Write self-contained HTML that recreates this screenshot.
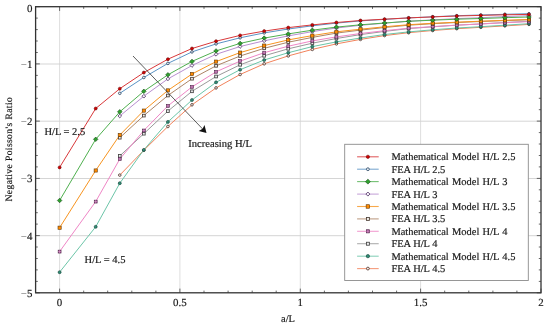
<!DOCTYPE html>
<html><head><meta charset="utf-8"><title>Negative Poisson's Ratio vs a/L</title>
<style>html,body{margin:0;padding:0;background:#fff}svg{display:block}text{text-rendering:geometricPrecision;font-family:"Liberation Serif",serif;fill:#1a1a1a;stroke:#1a1a1a;stroke-width:0.18px}</style></head><body>
<svg width="550" height="329" viewBox="0 0 550 329">
<rect width="550" height="329" fill="#fff"/>
<path d="M59.6 6.7V292.8M179.9 6.7V292.8M300.3 6.7V292.8M420.6 6.7V292.8" stroke="#dadada" stroke-width="0.9" fill="none"/>
<path d="M35.6 64.0H541.0M35.6 121.2H541.0M35.6 178.5H541.0M35.6 235.7H541.0" stroke="#d0d0d0" stroke-width="0.9" fill="none"/>
<path d="M119.8 175.1L143.8 150.3L167.9 126.5L192.0 104.8L216.1 87.9L240.1 74.5L264.2 63.8L288.3 55.9L312.3 49.4L336.4 43.9L360.5 39.4L384.5 35.6L408.6 32.7L432.7 30.5L456.8 28.7L480.8 27.3L504.9 25.9L529.0 24.4" stroke="#f2835c" stroke-width="1.0" fill="none" stroke-linejoin="round"/>
<path d="M59.6 272.2L95.7 226.8L119.8 183.2L143.8 149.9L167.9 121.9L192.0 100.0L216.1 82.3L240.1 69.7L264.2 60.0L288.3 52.7L312.3 46.6L336.4 41.9L360.5 38.0L384.5 34.5L408.6 31.9L432.7 29.8L456.8 28.0L480.8 26.7L504.9 25.2L529.0 23.7" stroke="#6cc5a8" stroke-width="1.0" fill="none" stroke-linejoin="round"/>
<path d="M119.8 155.9L143.8 133.7L167.9 111.1L192.0 91.3L216.1 76.5L240.1 64.8L264.2 55.8L288.3 48.8L312.3 43.2L336.4 38.5L360.5 34.6L384.5 31.4L408.6 28.6L432.7 26.8L456.8 25.2L480.8 23.9L504.9 22.5L529.0 21.3" stroke="#9a9a9a" stroke-width="1.0" fill="none" stroke-linejoin="round"/>
<path d="M59.6 251.6L95.7 201.6L119.8 159.0L143.8 130.5L167.9 105.9L192.0 86.9L216.1 71.8L240.1 61.1L264.2 52.7L288.3 46.2L312.3 40.9L336.4 36.9L360.5 33.5L384.5 30.7L408.6 28.2L432.7 26.6L456.8 25.1L480.8 24.0L504.9 22.7L529.0 21.6" stroke="#ef86c6" stroke-width="1.0" fill="none" stroke-linejoin="round"/>
<path d="M119.8 137.7L143.8 115.6L167.9 95.5L192.0 78.7L216.1 65.8L240.1 56.0L264.2 48.3L288.3 42.2L312.3 37.4L336.4 33.1L360.5 30.1L384.5 27.5L408.6 25.2L432.7 23.7L456.8 22.5L480.8 21.5L504.9 20.6L529.0 19.8" stroke="#ad8566" stroke-width="1.0" fill="none" stroke-linejoin="round"/>
<path d="M59.6 227.7L95.7 170.5L119.8 135.0L143.8 110.6L167.9 90.4L192.0 74.0L216.1 61.6L240.1 52.6L264.2 45.6L288.3 39.9L312.3 35.6L336.4 31.8L360.5 29.2L384.5 26.8L408.6 24.7L432.7 23.3L456.8 22.2L480.8 21.2L504.9 20.3L529.0 19.5" stroke="#f79420" stroke-width="1.0" fill="none" stroke-linejoin="round"/>
<path d="M119.8 116.0L143.8 96.2L167.9 78.9L192.0 65.5L216.1 54.3L240.1 46.5L264.2 40.8L288.3 35.9L312.3 31.6L336.4 28.0L360.5 25.3L384.5 23.2L408.6 21.2L432.7 19.9L456.8 18.6L480.8 17.7L504.9 16.6L529.0 15.7" stroke="#b98fd0" stroke-width="1.0" fill="none" stroke-linejoin="round"/>
<path d="M59.6 200.5L95.7 139.3L119.8 111.8L143.8 91.3L167.9 74.8L192.0 61.4L216.1 50.9L240.1 43.4L264.2 38.1L288.3 33.9L312.3 30.2L336.4 27.1L360.5 24.8L384.5 23.0L408.6 21.3L432.7 20.2L456.8 19.2L480.8 18.5L504.9 17.7L529.0 17.0" stroke="#4fb04f" stroke-width="1.0" fill="none" stroke-linejoin="round"/>
<path d="M119.8 93.3L143.8 77.5L167.9 63.4L192.0 51.9L216.1 43.9L240.1 37.8L264.2 32.9L288.3 29.0L312.3 25.8L336.4 23.1L360.5 20.9L384.5 19.4L408.6 17.9L432.7 16.8L456.8 15.7L480.8 15.0L504.9 14.3L529.0 13.7" stroke="#5b93c4" stroke-width="1.0" fill="none" stroke-linejoin="round"/>
<path d="M59.6 167.4L95.7 108.5L119.8 88.7L143.8 72.6L167.9 59.2L192.0 48.5L216.1 41.2L240.1 35.4L264.2 31.1L288.3 27.6L312.3 24.9L336.4 22.5L360.5 20.5L384.5 19.2L408.6 17.9L432.7 16.9L456.8 16.0L480.8 15.4L504.9 14.8L529.0 14.4" stroke="#d9383a" stroke-width="1.0" fill="none" stroke-linejoin="round"/>
<g><circle cx="119.78" cy="175.1" r="1.30" fill="#f6ebe6" stroke="#4a3028" stroke-width="0.8"/><circle cx="143.84" cy="150.3" r="1.30" fill="#f6ebe6" stroke="#4a3028" stroke-width="0.8"/><circle cx="167.91" cy="126.5" r="1.30" fill="#f6ebe6" stroke="#4a3028" stroke-width="0.8"/><circle cx="191.98" cy="104.8" r="1.30" fill="#f6ebe6" stroke="#4a3028" stroke-width="0.8"/><circle cx="216.05" cy="87.9" r="1.30" fill="#f6ebe6" stroke="#4a3028" stroke-width="0.8"/><circle cx="240.12" cy="74.5" r="1.30" fill="#f6ebe6" stroke="#4a3028" stroke-width="0.8"/><circle cx="264.19" cy="63.8" r="1.30" fill="#f6ebe6" stroke="#4a3028" stroke-width="0.8"/><circle cx="288.26" cy="55.9" r="1.30" fill="#f6ebe6" stroke="#4a3028" stroke-width="0.8"/><circle cx="312.33" cy="49.4" r="1.30" fill="#f6ebe6" stroke="#4a3028" stroke-width="0.8"/><circle cx="336.4" cy="43.88" r="1.30" fill="#f6ebe6" stroke="#4a3028" stroke-width="0.8"/><circle cx="360.48" cy="39.43" r="1.30" fill="#f6ebe6" stroke="#4a3028" stroke-width="0.8"/><circle cx="384.55" cy="35.57" r="1.30" fill="#f6ebe6" stroke="#4a3028" stroke-width="0.8"/><circle cx="408.62" cy="32.75" r="1.30" fill="#f6ebe6" stroke="#4a3028" stroke-width="0.8"/><circle cx="432.69" cy="30.52" r="1.30" fill="#f6ebe6" stroke="#4a3028" stroke-width="0.8"/><circle cx="456.75" cy="28.66" r="1.30" fill="#f6ebe6" stroke="#4a3028" stroke-width="0.8"/><circle cx="480.82" cy="27.34" r="1.30" fill="#f6ebe6" stroke="#4a3028" stroke-width="0.8"/><circle cx="504.9" cy="25.86" r="1.30" fill="#f6ebe6" stroke="#4a3028" stroke-width="0.8"/><circle cx="528.96" cy="24.41" r="1.30" fill="#f6ebe6" stroke="#4a3028" stroke-width="0.8"/></g>
<g><circle cx="59.6" cy="272.2" r="1.50" fill="#2f8f78" stroke="#173f36" stroke-width="0.6"/><circle cx="95.7" cy="226.8" r="1.50" fill="#2f8f78" stroke="#173f36" stroke-width="0.6"/><circle cx="119.78" cy="183.2" r="1.50" fill="#2f8f78" stroke="#173f36" stroke-width="0.6"/><circle cx="143.84" cy="149.9" r="1.50" fill="#2f8f78" stroke="#173f36" stroke-width="0.6"/><circle cx="167.91" cy="121.9" r="1.50" fill="#2f8f78" stroke="#173f36" stroke-width="0.6"/><circle cx="191.98" cy="100" r="1.50" fill="#2f8f78" stroke="#173f36" stroke-width="0.6"/><circle cx="216.05" cy="82.3" r="1.50" fill="#2f8f78" stroke="#173f36" stroke-width="0.6"/><circle cx="240.12" cy="69.7" r="1.50" fill="#2f8f78" stroke="#173f36" stroke-width="0.6"/><circle cx="264.19" cy="60.0" r="1.50" fill="#2f8f78" stroke="#173f36" stroke-width="0.6"/><circle cx="288.26" cy="52.7" r="1.50" fill="#2f8f78" stroke="#173f36" stroke-width="0.6"/><circle cx="312.33" cy="46.6" r="1.50" fill="#2f8f78" stroke="#173f36" stroke-width="0.6"/><circle cx="336.4" cy="41.9" r="1.50" fill="#2f8f78" stroke="#173f36" stroke-width="0.6"/><circle cx="360.48" cy="38.0" r="1.50" fill="#2f8f78" stroke="#173f36" stroke-width="0.6"/><circle cx="384.55" cy="34.5" r="1.50" fill="#2f8f78" stroke="#173f36" stroke-width="0.6"/><circle cx="408.62" cy="31.9" r="1.50" fill="#2f8f78" stroke="#173f36" stroke-width="0.6"/><circle cx="432.69" cy="29.8" r="1.50" fill="#2f8f78" stroke="#173f36" stroke-width="0.6"/><circle cx="456.75" cy="28.0" r="1.50" fill="#2f8f78" stroke="#173f36" stroke-width="0.6"/><circle cx="480.82" cy="26.7" r="1.50" fill="#2f8f78" stroke="#173f36" stroke-width="0.6"/><circle cx="504.9" cy="25.2" r="1.50" fill="#2f8f78" stroke="#173f36" stroke-width="0.6"/><circle cx="528.96" cy="23.7" r="1.50" fill="#2f8f78" stroke="#173f36" stroke-width="0.6"/></g>
<g><rect x="118.43" y="154.55" width="2.7" height="2.7" fill="#eeeeee" stroke="#444" stroke-width="0.85"/><rect x="142.49" y="132.35" width="2.7" height="2.7" fill="#eeeeee" stroke="#444" stroke-width="0.85"/><rect x="166.56" y="109.75" width="2.7" height="2.7" fill="#eeeeee" stroke="#444" stroke-width="0.85"/><rect x="190.63" y="89.95" width="2.7" height="2.7" fill="#eeeeee" stroke="#444" stroke-width="0.85"/><rect x="214.70" y="75.15" width="2.7" height="2.7" fill="#eeeeee" stroke="#444" stroke-width="0.85"/><rect x="238.77" y="63.45" width="2.7" height="2.7" fill="#eeeeee" stroke="#444" stroke-width="0.85"/><rect x="262.84" y="54.45" width="2.7" height="2.7" fill="#eeeeee" stroke="#444" stroke-width="0.85"/><rect x="286.91" y="47.45" width="2.7" height="2.7" fill="#eeeeee" stroke="#444" stroke-width="0.85"/><rect x="310.98" y="41.85" width="2.7" height="2.7" fill="#eeeeee" stroke="#444" stroke-width="0.85"/><rect x="335.05" y="37.14" width="2.7" height="2.7" fill="#eeeeee" stroke="#444" stroke-width="0.85"/><rect x="359.13" y="33.23" width="2.7" height="2.7" fill="#eeeeee" stroke="#444" stroke-width="0.85"/><rect x="383.20" y="30.06" width="2.7" height="2.7" fill="#eeeeee" stroke="#444" stroke-width="0.85"/><rect x="407.27" y="27.28" width="2.7" height="2.7" fill="#eeeeee" stroke="#444" stroke-width="0.85"/><rect x="431.34" y="25.47" width="2.7" height="2.7" fill="#eeeeee" stroke="#444" stroke-width="0.85"/><rect x="455.40" y="23.80" width="2.7" height="2.7" fill="#eeeeee" stroke="#444" stroke-width="0.85"/><rect x="479.47" y="22.56" width="2.7" height="2.7" fill="#eeeeee" stroke="#444" stroke-width="0.85"/><rect x="503.55" y="21.15" width="2.7" height="2.7" fill="#eeeeee" stroke="#444" stroke-width="0.85"/><rect x="527.61" y="19.94" width="2.7" height="2.7" fill="#eeeeee" stroke="#444" stroke-width="0.85"/></g>
<g><rect x="58.15" y="250.15" width="2.9" height="2.9" fill="#9a4a8c" stroke="#4a2545" stroke-width="0.6"/><path d="M58.15 251.6H61.05M59.6 250.15V253.05" stroke="#e9a6d8" stroke-width="0.5"/><rect x="94.25" y="200.15" width="2.9" height="2.9" fill="#9a4a8c" stroke="#4a2545" stroke-width="0.6"/><path d="M94.25 201.6H97.15M95.7 200.15V203.05" stroke="#e9a6d8" stroke-width="0.5"/><rect x="118.33" y="157.55" width="2.9" height="2.9" fill="#9a4a8c" stroke="#4a2545" stroke-width="0.6"/><path d="M118.33 159.0H121.23M119.78 157.55V160.45" stroke="#e9a6d8" stroke-width="0.5"/><rect x="142.39" y="129.05" width="2.9" height="2.9" fill="#9a4a8c" stroke="#4a2545" stroke-width="0.6"/><path d="M142.39 130.5H145.29M143.84 129.05V131.95" stroke="#e9a6d8" stroke-width="0.5"/><rect x="166.46" y="104.45" width="2.9" height="2.9" fill="#9a4a8c" stroke="#4a2545" stroke-width="0.6"/><path d="M166.46 105.9H169.36M167.91 104.45V107.35" stroke="#e9a6d8" stroke-width="0.5"/><rect x="190.53" y="85.45" width="2.9" height="2.9" fill="#9a4a8c" stroke="#4a2545" stroke-width="0.6"/><path d="M190.53 86.9H193.43M191.98 85.45V88.35" stroke="#e9a6d8" stroke-width="0.5"/><rect x="214.60" y="70.35" width="2.9" height="2.9" fill="#9a4a8c" stroke="#4a2545" stroke-width="0.6"/><path d="M214.60 71.8H217.50M216.05 70.35V73.25" stroke="#e9a6d8" stroke-width="0.5"/><rect x="238.67" y="59.65" width="2.9" height="2.9" fill="#9a4a8c" stroke="#4a2545" stroke-width="0.6"/><path d="M238.67 61.1H241.57M240.12 59.65V62.55" stroke="#e9a6d8" stroke-width="0.5"/><rect x="262.74" y="51.25" width="2.9" height="2.9" fill="#9a4a8c" stroke="#4a2545" stroke-width="0.6"/><path d="M262.74 52.7H265.64M264.19 51.25V54.15" stroke="#e9a6d8" stroke-width="0.5"/><rect x="286.81" y="44.75" width="2.9" height="2.9" fill="#9a4a8c" stroke="#4a2545" stroke-width="0.6"/><path d="M286.81 46.2H289.71M288.26 44.75V47.65" stroke="#e9a6d8" stroke-width="0.5"/><rect x="310.88" y="39.45" width="2.9" height="2.9" fill="#9a4a8c" stroke="#4a2545" stroke-width="0.6"/><path d="M310.88 40.9H313.78M312.33 39.45V42.35" stroke="#e9a6d8" stroke-width="0.5"/><rect x="334.95" y="35.45" width="2.9" height="2.9" fill="#9a4a8c" stroke="#4a2545" stroke-width="0.6"/><path d="M334.95 36.9H337.85M336.4 35.45V38.35" stroke="#e9a6d8" stroke-width="0.5"/><rect x="359.03" y="32.05" width="2.9" height="2.9" fill="#9a4a8c" stroke="#4a2545" stroke-width="0.6"/><path d="M359.03 33.5H361.93M360.48 32.05V34.95" stroke="#e9a6d8" stroke-width="0.5"/><rect x="383.10" y="29.25" width="2.9" height="2.9" fill="#9a4a8c" stroke="#4a2545" stroke-width="0.6"/><path d="M383.10 30.7H386.00M384.55 29.25V32.15" stroke="#e9a6d8" stroke-width="0.5"/><rect x="407.17" y="26.75" width="2.9" height="2.9" fill="#9a4a8c" stroke="#4a2545" stroke-width="0.6"/><path d="M407.17 28.2H410.07M408.62 26.75V29.65" stroke="#e9a6d8" stroke-width="0.5"/><rect x="431.24" y="25.15" width="2.9" height="2.9" fill="#9a4a8c" stroke="#4a2545" stroke-width="0.6"/><path d="M431.24 26.6H434.14M432.69 25.15V28.05" stroke="#e9a6d8" stroke-width="0.5"/><rect x="455.30" y="23.65" width="2.9" height="2.9" fill="#9a4a8c" stroke="#4a2545" stroke-width="0.6"/><path d="M455.30 25.1H458.20M456.75 23.65V26.55" stroke="#e9a6d8" stroke-width="0.5"/><rect x="479.37" y="22.55" width="2.9" height="2.9" fill="#9a4a8c" stroke="#4a2545" stroke-width="0.6"/><path d="M479.37 24.0H482.27M480.82 22.55V25.45" stroke="#e9a6d8" stroke-width="0.5"/><rect x="503.45" y="21.25" width="2.9" height="2.9" fill="#9a4a8c" stroke="#4a2545" stroke-width="0.6"/><path d="M503.45 22.7H506.35M504.9 21.25V24.15" stroke="#e9a6d8" stroke-width="0.5"/><rect x="527.51" y="20.15" width="2.9" height="2.9" fill="#9a4a8c" stroke="#4a2545" stroke-width="0.6"/><path d="M527.51 21.6H530.41M528.96 20.15V23.05" stroke="#e9a6d8" stroke-width="0.5"/></g>
<g><rect x="118.43" y="136.35" width="2.7" height="2.7" fill="#f3efe9" stroke="#4a3d35" stroke-width="0.85"/><rect x="142.49" y="114.25" width="2.7" height="2.7" fill="#f3efe9" stroke="#4a3d35" stroke-width="0.85"/><rect x="166.56" y="94.15" width="2.7" height="2.7" fill="#f3efe9" stroke="#4a3d35" stroke-width="0.85"/><rect x="190.63" y="77.35" width="2.7" height="2.7" fill="#f3efe9" stroke="#4a3d35" stroke-width="0.85"/><rect x="214.70" y="64.45" width="2.7" height="2.7" fill="#f3efe9" stroke="#4a3d35" stroke-width="0.85"/><rect x="238.77" y="54.65" width="2.7" height="2.7" fill="#f3efe9" stroke="#4a3d35" stroke-width="0.85"/><rect x="262.84" y="46.95" width="2.7" height="2.7" fill="#f3efe9" stroke="#4a3d35" stroke-width="0.85"/><rect x="286.91" y="40.85" width="2.7" height="2.7" fill="#f3efe9" stroke="#4a3d35" stroke-width="0.85"/><rect x="310.98" y="36.05" width="2.7" height="2.7" fill="#f3efe9" stroke="#4a3d35" stroke-width="0.85"/><rect x="335.05" y="31.72" width="2.7" height="2.7" fill="#f3efe9" stroke="#4a3d35" stroke-width="0.85"/><rect x="359.13" y="28.75" width="2.7" height="2.7" fill="#f3efe9" stroke="#4a3d35" stroke-width="0.85"/><rect x="383.20" y="26.11" width="2.7" height="2.7" fill="#f3efe9" stroke="#4a3d35" stroke-width="0.85"/><rect x="407.27" y="23.84" width="2.7" height="2.7" fill="#f3efe9" stroke="#4a3d35" stroke-width="0.85"/><rect x="431.34" y="22.33" width="2.7" height="2.7" fill="#f3efe9" stroke="#4a3d35" stroke-width="0.85"/><rect x="455.40" y="21.17" width="2.7" height="2.7" fill="#f3efe9" stroke="#4a3d35" stroke-width="0.85"/><rect x="479.47" y="20.13" width="2.7" height="2.7" fill="#f3efe9" stroke="#4a3d35" stroke-width="0.85"/><rect x="503.55" y="19.22" width="2.7" height="2.7" fill="#f3efe9" stroke="#4a3d35" stroke-width="0.85"/><rect x="527.61" y="18.42" width="2.7" height="2.7" fill="#f3efe9" stroke="#4a3d35" stroke-width="0.85"/></g>
<g><rect x="58.00" y="226.10" width="3.2" height="3.2" fill="#ff8a00" stroke="#5e380a" stroke-width="0.6"/><rect x="94.10" y="168.90" width="3.2" height="3.2" fill="#ff8a00" stroke="#5e380a" stroke-width="0.6"/><rect x="118.18" y="133.40" width="3.2" height="3.2" fill="#ff8a00" stroke="#5e380a" stroke-width="0.6"/><rect x="142.24" y="109.00" width="3.2" height="3.2" fill="#ff8a00" stroke="#5e380a" stroke-width="0.6"/><rect x="166.31" y="88.80" width="3.2" height="3.2" fill="#ff8a00" stroke="#5e380a" stroke-width="0.6"/><rect x="190.38" y="72.40" width="3.2" height="3.2" fill="#ff8a00" stroke="#5e380a" stroke-width="0.6"/><rect x="214.45" y="60.00" width="3.2" height="3.2" fill="#ff8a00" stroke="#5e380a" stroke-width="0.6"/><rect x="238.52" y="51.00" width="3.2" height="3.2" fill="#ff8a00" stroke="#5e380a" stroke-width="0.6"/><rect x="262.59" y="44.00" width="3.2" height="3.2" fill="#ff8a00" stroke="#5e380a" stroke-width="0.6"/><rect x="286.66" y="38.30" width="3.2" height="3.2" fill="#ff8a00" stroke="#5e380a" stroke-width="0.6"/><rect x="310.73" y="34.00" width="3.2" height="3.2" fill="#ff8a00" stroke="#5e380a" stroke-width="0.6"/><rect x="334.80" y="30.20" width="3.2" height="3.2" fill="#ff8a00" stroke="#5e380a" stroke-width="0.6"/><rect x="358.88" y="27.60" width="3.2" height="3.2" fill="#ff8a00" stroke="#5e380a" stroke-width="0.6"/><rect x="382.95" y="25.20" width="3.2" height="3.2" fill="#ff8a00" stroke="#5e380a" stroke-width="0.6"/><rect x="407.02" y="23.10" width="3.2" height="3.2" fill="#ff8a00" stroke="#5e380a" stroke-width="0.6"/><rect x="431.09" y="21.70" width="3.2" height="3.2" fill="#ff8a00" stroke="#5e380a" stroke-width="0.6"/><rect x="455.15" y="20.60" width="3.2" height="3.2" fill="#ff8a00" stroke="#5e380a" stroke-width="0.6"/><rect x="479.22" y="19.60" width="3.2" height="3.2" fill="#ff8a00" stroke="#5e380a" stroke-width="0.6"/><rect x="503.30" y="18.70" width="3.2" height="3.2" fill="#ff8a00" stroke="#5e380a" stroke-width="0.6"/><rect x="527.36" y="17.90" width="3.2" height="3.2" fill="#ff8a00" stroke="#5e380a" stroke-width="0.6"/></g>
<g><path d="M117.93 116.0L119.78 114.15L121.63 116.0L119.78 117.85Z" fill="#f6effa" stroke="#4a2f5e" stroke-width="0.8"/><path d="M141.99 96.2L143.84 94.35000000000001L145.69 96.2L143.84 98.05Z" fill="#f6effa" stroke="#4a2f5e" stroke-width="0.8"/><path d="M166.06 78.9L167.91 77.05000000000001L169.76 78.9L167.91 80.75Z" fill="#f6effa" stroke="#4a2f5e" stroke-width="0.8"/><path d="M190.13 65.5L191.98 63.65L193.82999999999998 65.5L191.98 67.35Z" fill="#f6effa" stroke="#4a2f5e" stroke-width="0.8"/><path d="M214.20000000000002 54.3L216.05 52.449999999999996L217.9 54.3L216.05 56.15Z" fill="#f6effa" stroke="#4a2f5e" stroke-width="0.8"/><path d="M238.27 46.5L240.12 44.65L241.97 46.5L240.12 48.35Z" fill="#f6effa" stroke="#4a2f5e" stroke-width="0.8"/><path d="M262.34 40.8L264.19 38.949999999999996L266.04 40.8L264.19 42.65Z" fill="#f6effa" stroke="#4a2f5e" stroke-width="0.8"/><path d="M286.40999999999997 35.9L288.26 34.05L290.11 35.9L288.26 37.75Z" fill="#f6effa" stroke="#4a2f5e" stroke-width="0.8"/><path d="M310.47999999999996 31.6L312.33 29.75L314.18 31.6L312.33 33.45Z" fill="#f6effa" stroke="#4a2f5e" stroke-width="0.8"/><path d="M334.54999999999995 28.03L336.4 26.18L338.25 28.03L336.4 29.880000000000003Z" fill="#f6effa" stroke="#4a2f5e" stroke-width="0.8"/><path d="M358.63 25.34L360.48 23.49L362.33000000000004 25.34L360.48 27.19Z" fill="#f6effa" stroke="#4a2f5e" stroke-width="0.8"/><path d="M382.7 23.21L384.55 21.36L386.40000000000003 23.21L384.55 25.060000000000002Z" fill="#f6effa" stroke="#4a2f5e" stroke-width="0.8"/><path d="M406.77 21.22L408.62 19.369999999999997L410.47 21.22L408.62 23.07Z" fill="#f6effa" stroke="#4a2f5e" stroke-width="0.8"/><path d="M430.84 19.86L432.69 18.009999999999998L434.54 19.86L432.69 21.71Z" fill="#f6effa" stroke="#4a2f5e" stroke-width="0.8"/><path d="M454.9 18.6L456.75 16.75L458.6 18.6L456.75 20.450000000000003Z" fill="#f6effa" stroke="#4a2f5e" stroke-width="0.8"/><path d="M478.96999999999997 17.65L480.82 15.799999999999999L482.67 17.65L480.82 19.5Z" fill="#f6effa" stroke="#4a2f5e" stroke-width="0.8"/><path d="M503.04999999999995 16.61L504.9 14.76L506.75 16.61L504.9 18.46Z" fill="#f6effa" stroke="#4a2f5e" stroke-width="0.8"/><path d="M527.11 15.66L528.96 13.81L530.8100000000001 15.66L528.96 17.51Z" fill="#f6effa" stroke="#4a2f5e" stroke-width="0.8"/></g>
<g><path d="M57.35 200.5L59.6 198.25L61.85 200.5L59.6 202.75Z" fill="#2fa12f" stroke="#174817" stroke-width="0.6"/><path d="M93.45 139.3L95.7 137.05L97.95 139.3L95.7 141.55Z" fill="#2fa12f" stroke="#174817" stroke-width="0.6"/><path d="M117.53 111.8L119.78 109.55L122.03 111.8L119.78 114.05Z" fill="#2fa12f" stroke="#174817" stroke-width="0.6"/><path d="M141.59 91.3L143.84 89.05L146.09 91.3L143.84 93.55Z" fill="#2fa12f" stroke="#174817" stroke-width="0.6"/><path d="M165.66 74.8L167.91 72.55L170.16 74.8L167.91 77.05Z" fill="#2fa12f" stroke="#174817" stroke-width="0.6"/><path d="M189.73 61.4L191.98 59.15L194.23 61.4L191.98 63.65Z" fill="#2fa12f" stroke="#174817" stroke-width="0.6"/><path d="M213.8 50.9L216.05 48.65L218.3 50.9L216.05 53.15Z" fill="#2fa12f" stroke="#174817" stroke-width="0.6"/><path d="M237.87 43.4L240.12 41.15L242.37 43.4L240.12 45.65Z" fill="#2fa12f" stroke="#174817" stroke-width="0.6"/><path d="M261.94 38.1L264.19 35.85L266.44 38.1L264.19 40.35Z" fill="#2fa12f" stroke="#174817" stroke-width="0.6"/><path d="M286.01 33.9L288.26 31.65L290.51 33.9L288.26 36.15Z" fill="#2fa12f" stroke="#174817" stroke-width="0.6"/><path d="M310.08 30.2L312.33 27.95L314.58 30.2L312.33 32.45Z" fill="#2fa12f" stroke="#174817" stroke-width="0.6"/><path d="M334.15 27.1L336.4 24.85L338.65 27.1L336.4 29.35Z" fill="#2fa12f" stroke="#174817" stroke-width="0.6"/><path d="M358.23 24.8L360.48 22.55L362.73 24.8L360.48 27.05Z" fill="#2fa12f" stroke="#174817" stroke-width="0.6"/><path d="M382.3 23.0L384.55 20.75L386.8 23.0L384.55 25.25Z" fill="#2fa12f" stroke="#174817" stroke-width="0.6"/><path d="M406.37 21.3L408.62 19.05L410.87 21.3L408.62 23.55Z" fill="#2fa12f" stroke="#174817" stroke-width="0.6"/><path d="M430.44 20.2L432.69 17.95L434.94 20.2L432.69 22.45Z" fill="#2fa12f" stroke="#174817" stroke-width="0.6"/><path d="M454.5 19.2L456.75 16.95L459.0 19.2L456.75 21.45Z" fill="#2fa12f" stroke="#174817" stroke-width="0.6"/><path d="M478.57 18.5L480.82 16.25L483.07 18.5L480.82 20.75Z" fill="#2fa12f" stroke="#174817" stroke-width="0.6"/><path d="M502.65 17.7L504.9 15.45L507.15 17.7L504.9 19.95Z" fill="#2fa12f" stroke="#174817" stroke-width="0.6"/><path d="M526.71 17.0L528.96 14.75L531.21 17.0L528.96 19.25Z" fill="#2fa12f" stroke="#174817" stroke-width="0.6"/></g>
<g><circle cx="119.78" cy="93.3" r="1.30" fill="#eef3f8" stroke="#27425f" stroke-width="0.8"/><circle cx="143.84" cy="77.5" r="1.30" fill="#eef3f8" stroke="#27425f" stroke-width="0.8"/><circle cx="167.91" cy="63.4" r="1.30" fill="#eef3f8" stroke="#27425f" stroke-width="0.8"/><circle cx="191.98" cy="51.9" r="1.30" fill="#eef3f8" stroke="#27425f" stroke-width="0.8"/><circle cx="216.05" cy="43.9" r="1.30" fill="#eef3f8" stroke="#27425f" stroke-width="0.8"/><circle cx="240.12" cy="37.8" r="1.30" fill="#eef3f8" stroke="#27425f" stroke-width="0.8"/><circle cx="264.19" cy="32.9" r="1.30" fill="#eef3f8" stroke="#27425f" stroke-width="0.8"/><circle cx="288.26" cy="29.0" r="1.30" fill="#eef3f8" stroke="#27425f" stroke-width="0.8"/><circle cx="312.33" cy="25.8" r="1.30" fill="#eef3f8" stroke="#27425f" stroke-width="0.8"/><circle cx="336.4" cy="23.1" r="1.30" fill="#eef3f8" stroke="#27425f" stroke-width="0.8"/><circle cx="360.48" cy="20.87" r="1.30" fill="#eef3f8" stroke="#27425f" stroke-width="0.8"/><circle cx="384.55" cy="19.37" r="1.30" fill="#eef3f8" stroke="#27425f" stroke-width="0.8"/><circle cx="408.62" cy="17.91" r="1.30" fill="#eef3f8" stroke="#27425f" stroke-width="0.8"/><circle cx="432.69" cy="16.76" r="1.30" fill="#eef3f8" stroke="#27425f" stroke-width="0.8"/><circle cx="456.75" cy="15.72" r="1.30" fill="#eef3f8" stroke="#27425f" stroke-width="0.8"/><circle cx="480.82" cy="14.99" r="1.30" fill="#eef3f8" stroke="#27425f" stroke-width="0.8"/><circle cx="504.9" cy="14.27" r="1.30" fill="#eef3f8" stroke="#27425f" stroke-width="0.8"/><circle cx="528.96" cy="13.74" r="1.30" fill="#eef3f8" stroke="#27425f" stroke-width="0.8"/></g>
<g><circle cx="59.6" cy="167.4" r="1.50" fill="#d40000" stroke="#6a0c0c" stroke-width="0.6"/><circle cx="95.7" cy="108.5" r="1.50" fill="#d40000" stroke="#6a0c0c" stroke-width="0.6"/><circle cx="119.78" cy="88.7" r="1.50" fill="#d40000" stroke="#6a0c0c" stroke-width="0.6"/><circle cx="143.84" cy="72.6" r="1.50" fill="#d40000" stroke="#6a0c0c" stroke-width="0.6"/><circle cx="167.91" cy="59.2" r="1.50" fill="#d40000" stroke="#6a0c0c" stroke-width="0.6"/><circle cx="191.98" cy="48.5" r="1.50" fill="#d40000" stroke="#6a0c0c" stroke-width="0.6"/><circle cx="216.05" cy="41.2" r="1.50" fill="#d40000" stroke="#6a0c0c" stroke-width="0.6"/><circle cx="240.12" cy="35.4" r="1.50" fill="#d40000" stroke="#6a0c0c" stroke-width="0.6"/><circle cx="264.19" cy="31.1" r="1.50" fill="#d40000" stroke="#6a0c0c" stroke-width="0.6"/><circle cx="288.26" cy="27.6" r="1.50" fill="#d40000" stroke="#6a0c0c" stroke-width="0.6"/><circle cx="312.33" cy="24.9" r="1.50" fill="#d40000" stroke="#6a0c0c" stroke-width="0.6"/><circle cx="336.4" cy="22.5" r="1.50" fill="#d40000" stroke="#6a0c0c" stroke-width="0.6"/><circle cx="360.48" cy="20.5" r="1.50" fill="#d40000" stroke="#6a0c0c" stroke-width="0.6"/><circle cx="384.55" cy="19.2" r="1.50" fill="#d40000" stroke="#6a0c0c" stroke-width="0.6"/><circle cx="408.62" cy="17.9" r="1.50" fill="#d40000" stroke="#6a0c0c" stroke-width="0.6"/><circle cx="432.69" cy="16.9" r="1.50" fill="#d40000" stroke="#6a0c0c" stroke-width="0.6"/><circle cx="456.75" cy="16.0" r="1.50" fill="#d40000" stroke="#6a0c0c" stroke-width="0.6"/><circle cx="480.82" cy="15.4" r="1.50" fill="#d40000" stroke="#6a0c0c" stroke-width="0.6"/><circle cx="504.9" cy="14.8" r="1.50" fill="#d40000" stroke="#6a0c0c" stroke-width="0.6"/><circle cx="528.96" cy="14.4" r="1.50" fill="#d40000" stroke="#6a0c0c" stroke-width="0.6"/></g>
<path d="M133.0 56.0L203.6 130.0" stroke="#333" stroke-width="0.8" fill="none"/>
<path d="M206.5 132.9L198.7 130.9L202.6 128.7L204.5 125.0Z" fill="#111"/>
<path d="M35.5 292.8v-2.2M35.5 6.7v2.2M59.6 292.8v-4.2M59.6 6.7v4.2M83.7 292.8v-2.2M83.7 6.7v2.2M107.7 292.8v-2.2M107.7 6.7v2.2M131.8 292.8v-2.2M131.8 6.7v2.2M155.9 292.8v-2.2M155.9 6.7v2.2M179.9 292.8v-4.2M179.9 6.7v4.2M204.0 292.8v-2.2M204.0 6.7v2.2M228.1 292.8v-2.2M228.1 6.7v2.2M252.2 292.8v-2.2M252.2 6.7v2.2M276.2 292.8v-2.2M276.2 6.7v2.2M300.3 292.8v-4.2M300.3 6.7v4.2M324.4 292.8v-2.2M324.4 6.7v2.2M348.4 292.8v-2.2M348.4 6.7v2.2M372.5 292.8v-2.2M372.5 6.7v2.2M396.6 292.8v-2.2M396.6 6.7v2.2M420.6 292.8v-4.2M420.6 6.7v4.2M444.7 292.8v-2.2M444.7 6.7v2.2M468.8 292.8v-2.2M468.8 6.7v2.2M492.9 292.8v-2.2M492.9 6.7v2.2M516.9 292.8v-2.2M516.9 6.7v2.2M541.0 292.8v-4.2M541.0 6.7v4.2M35.6 6.7h4.2M541.0 6.7h-4.2M35.6 18.1h2.2M541.0 18.1h-2.2M35.6 29.6h2.2M541.0 29.6h-2.2M35.6 41.0h2.2M541.0 41.0h-2.2M35.6 52.5h2.2M541.0 52.5h-2.2M35.6 63.9h4.2M541.0 63.9h-4.2M35.6 75.4h2.2M541.0 75.4h-2.2M35.6 86.8h2.2M541.0 86.8h-2.2M35.6 98.3h2.2M541.0 98.3h-2.2M35.6 109.7h2.2M541.0 109.7h-2.2M35.6 121.1h4.2M541.0 121.1h-4.2M35.6 132.6h2.2M541.0 132.6h-2.2M35.6 144.0h2.2M541.0 144.0h-2.2M35.6 155.5h2.2M541.0 155.5h-2.2M35.6 166.9h2.2M541.0 166.9h-2.2M35.6 178.4h4.2M541.0 178.4h-4.2M35.6 189.8h2.2M541.0 189.8h-2.2M35.6 201.2h2.2M541.0 201.2h-2.2M35.6 212.7h2.2M541.0 212.7h-2.2M35.6 224.1h2.2M541.0 224.1h-2.2M35.6 235.6h4.2M541.0 235.6h-4.2M35.6 247.0h2.2M541.0 247.0h-2.2M35.6 258.5h2.2M541.0 258.5h-2.2M35.6 269.9h2.2M541.0 269.9h-2.2M35.6 281.4h2.2M541.0 281.4h-2.2M35.6 292.8h4.2M541.0 292.8h-4.2" stroke="#444" stroke-width="0.8" fill="none"/>
<rect x="35.6" y="6.7" width="505.4" height="286.1" fill="none" stroke="#333" stroke-width="1.3"/>
<text x="32.4" y="12.3" font-size="10.9" text-anchor="end">0</text>
<text x="32.4" y="67.9" font-size="10.9" text-anchor="end"><tspan fill="#666" stroke="none">−</tspan>1</text>
<text x="32.4" y="125.1" font-size="10.9" text-anchor="end"><tspan fill="#666" stroke="none">−</tspan>2</text>
<text x="32.4" y="182.4" font-size="10.9" text-anchor="end"><tspan fill="#666" stroke="none">−</tspan>3</text>
<text x="32.4" y="239.6" font-size="10.9" text-anchor="end"><tspan fill="#666" stroke="none">−</tspan>4</text>
<text x="32.4" y="296.8" font-size="10.9" text-anchor="end"><tspan fill="#666" stroke="none">−</tspan>5</text>
<text x="59.6" y="306.4" font-size="10.9" text-anchor="middle">0</text>
<text x="179.9" y="306.4" font-size="10.9" text-anchor="middle">0.5</text>
<text x="300.3" y="306.4" font-size="10.9" text-anchor="middle">1</text>
<text x="420.6" y="306.4" font-size="10.9" text-anchor="middle">1.5</text>
<text x="541.0" y="306.4" font-size="10.9" text-anchor="middle">2</text>
<text x="288" y="322.2" font-size="10.5" text-anchor="middle">a/L</text>
<text transform="translate(12.4 149.2) rotate(-90)" font-size="9.7" letter-spacing="0.34" text-anchor="middle">Negative Poisson's Ratio</text>
<text x="44.4" y="135.3" font-size="10.5">H/L = 2.5</text>
<text x="84.6" y="262.5" font-size="10.5">H/L = 4.5</text>
<text x="188.2" y="146.5" font-size="10.6">Increasing H/L</text>
<rect x="344.7" y="144.3" width="183.6" height="136.2" fill="#fff" stroke="#8c8c8c" stroke-width="0.9"/>
<path d="M357.1 156.8H378.7" stroke="#d9383a" stroke-width="1.1" opacity="0.8"/>
<circle cx="367.9" cy="156.8" r="1.65" fill="#d40000" stroke="#6a0c0c" stroke-width="0.6"/>
<text x="391.4" y="160.3" font-size="10.45" word-spacing="0.68">Mathematical Model H/L 2.5</text>
<path d="M357.1 169.2H378.7" stroke="#5b93c4" stroke-width="1.1" opacity="0.8"/>
<circle cx="367.9" cy="169.22" r="1.43" fill="#eef3f8" stroke="#27425f" stroke-width="0.8"/>
<text x="391.4" y="172.7" font-size="10.45" word-spacing="0">FEA H/L 2.5</text>
<path d="M357.1 181.6H378.7" stroke="#4fb04f" stroke-width="1.1" opacity="0.8"/>
<path d="M365.42499999999995 181.64L367.9 179.165L370.375 181.64L367.9 184.11499999999998Z" fill="#2fa12f" stroke="#174817" stroke-width="0.6"/>
<text x="391.4" y="185.1" font-size="10.45" word-spacing="0.68">Mathematical Model H/L 3</text>
<path d="M357.1 194.1H378.7" stroke="#b98fd0" stroke-width="1.1" opacity="0.8"/>
<path d="M365.86499999999995 194.06L367.9 192.025L369.935 194.06L367.9 196.095Z" fill="#f6effa" stroke="#4a2f5e" stroke-width="0.8"/>
<text x="391.4" y="197.6" font-size="10.45" word-spacing="0">FEA H/L 3</text>
<path d="M357.1 206.5H378.7" stroke="#f79420" stroke-width="1.1" opacity="0.8"/>
<rect x="366.14" y="204.72" width="3.5200000000000005" height="3.5200000000000005" fill="#ff8a00" stroke="#5e380a" stroke-width="0.6"/>
<text x="391.4" y="210.0" font-size="10.45" word-spacing="0.68">Mathematical Model H/L 3.5</text>
<path d="M357.1 218.9H378.7" stroke="#ad8566" stroke-width="1.1" opacity="0.8"/>
<rect x="366.41" y="217.41" width="2.9700000000000006" height="2.9700000000000006" fill="#f3efe9" stroke="#4a3d35" stroke-width="0.85"/>
<text x="391.4" y="222.4" font-size="10.45" word-spacing="0">FEA H/L 3.5</text>
<path d="M357.1 231.3H378.7" stroke="#ef86c6" stroke-width="1.1" opacity="0.8"/>
<rect x="366.30" y="229.72" width="3.19" height="3.19" fill="#9a4a8c" stroke="#4a2545" stroke-width="0.6"/><path d="M366.30 231.32H369.50M367.9 229.72V232.91" stroke="#e9a6d8" stroke-width="0.5"/>
<text x="391.4" y="234.8" font-size="10.45" word-spacing="0.68">Mathematical Model H/L 4</text>
<path d="M357.1 243.7H378.7" stroke="#9a9a9a" stroke-width="1.1" opacity="0.8"/>
<rect x="366.41" y="242.25" width="2.9700000000000006" height="2.9700000000000006" fill="#eeeeee" stroke="#444" stroke-width="0.85"/>
<text x="391.4" y="247.2" font-size="10.45" word-spacing="0">FEA H/L 4</text>
<path d="M357.1 256.2H378.7" stroke="#6cc5a8" stroke-width="1.1" opacity="0.8"/>
<circle cx="367.9" cy="256.16" r="1.65" fill="#2f8f78" stroke="#173f36" stroke-width="0.6"/>
<text x="391.4" y="259.7" font-size="10.45" word-spacing="0.68">Mathematical Model H/L 4.5</text>
<path d="M357.1 268.6H378.7" stroke="#f2835c" stroke-width="1.1" opacity="0.8"/>
<circle cx="367.9" cy="268.58" r="1.43" fill="#f6ebe6" stroke="#4a3028" stroke-width="0.8"/>
<text x="391.4" y="272.1" font-size="10.45" word-spacing="0">FEA H/L 4.5</text>
</svg></body></html>
